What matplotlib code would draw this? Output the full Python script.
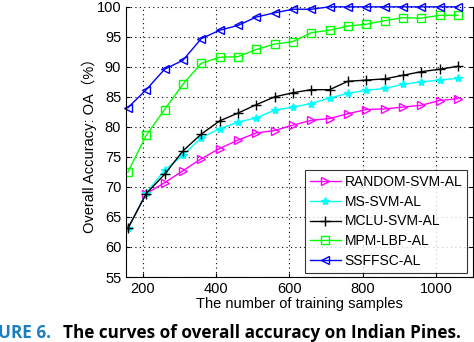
import matplotlib
matplotlib.use("Agg")
import matplotlib.pyplot as plt

x = [160, 210, 260, 310, 360, 410, 460, 510, 560, 610, 660, 710, 760, 810, 860, 910, 960, 1010, 1060]
random_svm = [63.1, 68.9, 70.7, 72.7, 74.7, 76.4, 77.8, 79.0, 79.4, 80.3, 81.1, 81.4, 82.2, 82.9, 83.0, 83.3, 83.6, 84.4, 84.7]
ms_svm = [63.1, 69.0, 72.8, 75.3, 78.2, 79.7, 80.8, 81.5, 82.8, 83.3, 83.9, 84.8, 85.6, 86.1, 86.4, 87.1, 87.5, 87.8, 88.1]
mclu_svm = [63.1, 68.9, 72.1, 76.0, 78.8, 81.0, 82.3, 83.7, 85.0, 85.7, 86.2, 86.2, 87.6, 87.8, 88.0, 88.6, 89.2, 89.6, 90.1]
mpm_lbp = [72.5, 78.6, 82.9, 87.1, 90.6, 91.6, 91.7, 92.9, 93.8, 94.2, 95.7, 96.1, 96.8, 97.1, 97.7, 98.2, 98.1, 98.6, 98.6]
ssffsc = [83.2, 86.2, 89.6, 91.1, 94.7, 96.1, 96.9, 98.3, 99.0, 99.6, 99.6, 100.0, 100.0, 100.0, 100.0, 100.0, 100.0, 100.0, 100.0]
labels = ["RANDOM-SVM-AL", "MS-SVM-AL", "MCLU-SVM-AL", "MPM-LBP-AL", "SSFFSC-AL"]
xticks = [200, 400, 600, 800, 1000]
yticks = [55, 60, 65, 70, 75, 80, 85, 90, 95, 100]

plt.rcParams['font.family'] = ['Liberation Sans', 'Noto Sans CJK SC', 'DejaVu Sans']

fig = plt.figure(figsize=(4.74, 3.42), dpi=100)
ax = fig.add_axes([0.266, 0.190, 0.731, 0.790])

lw = 1.0
ax.plot(x, random_svm, color='#ff00ff', marker='>', mfc='none', ms=6, lw=lw, label=labels[0])
ax.plot(x, ms_svm, color='#00ffff', marker='*', ms=6, lw=lw, label=labels[1])
ax.plot(x, mclu_svm, color='black', marker='+', ms=7, lw=lw, label=labels[2])
ax.plot(x, mpm_lbp, color='#00ff00', marker='s', mfc='none', ms=6, lw=lw, label=labels[3])
ax.plot(x, ssffsc, color='#0000ff', marker='<', mfc='none', ms=6, lw=lw, label=labels[4], clip_on=False)

ax.set_xlim(155, 1100)
ax.set_ylim(55, 100)
ax.set_xticks(xticks)
ax.set_yticks(yticks)
ax.tick_params(direction='in', labelsize=10.5, right=True, top=False, length=3)
ax.grid(True, linestyle=(0, (1, 3)), color='black', linewidth=0.8)
ax.spines['top'].set_visible(False)

ax.set_xlabel("The number of training samples", fontsize=10.5, labelpad=1)
ax.set_ylabel("Overall Accuracy: OA（%）", fontsize=10.5, labelpad=0)

leg = ax.legend(loc='lower right', bbox_to_anchor=(0.985, 0.015), fontsize=10, frameon=True,
                fancybox=False, edgecolor='black', handlelength=2.2, labelspacing=0.42,
                borderpad=0.35, handletextpad=0.3, borderaxespad=0, markerfirst=True)
leg.get_frame().set_linewidth(0.8)
leg.set_zorder(5)

fig.text(-0.005, 0.012, "URE 6.", color='#1a7ec0', fontsize=12.3, fontweight='bold', family='Open Sans')
fig.text(0.133, 0.012, "The curves of overall accuracy on Indian Pines.", color='black', fontsize=12.3,
         fontweight='bold', family='Open Sans')

fig.savefig("out.png", dpi=100)
